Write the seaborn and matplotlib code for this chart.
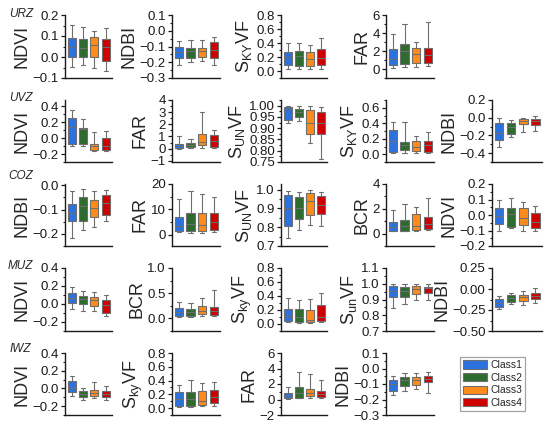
import numpy as np
import pandas as pd
import matplotlib
matplotlib.use("Agg")
import matplotlib.pyplot as plt
from matplotlib.ticker import AutoMinorLocator, FuncFormatter
from matplotlib.patches import Patch
import seaborn as sns

# ---------------- data: per class [low whisker, Q1, median, Q3, high whisker] ----------------
classes = ["Class1", "Class2", "Class3", "Class4"]
colors = ["#2B72E0", "#2E6B2E", "#FF8C1A", "#D00000"]
zones = ["URZ", "UVZ", "COZ", "MUZ", "IWZ"]

urz_ndvi = [[-0.049, 0.002, 0.049, 0.092, 0.152], [-0.037, 0.0, 0.044, 0.084, 0.141],
            [-0.054, -0.002, 0.057, 0.097, 0.125], [-0.067, -0.019, 0.046, 0.084, 0.137]]
urz_ndbi = [[-0.220, -0.172, -0.135, -0.105, -0.063], [-0.199, -0.176, -0.130, -0.109, -0.057],
            [-0.189, -0.166, -0.130, -0.109, -0.061], [-0.220, -0.172, -0.120, -0.074, -0.042]]
urz_sky = [[0.024, 0.091, 0.194, 0.266, 0.395], [0.034, 0.077, 0.21, 0.29, 0.40],
           [0.034, 0.072, 0.165, 0.275, 0.37], [0.024, 0.08, 0.19, 0.32, 0.475]]
urz_far = [[0.11, 0.40, 1.10, 2.21, 3.87], [0.22, 0.59, 1.95, 2.80, 5.0],
           [0.22, 0.67, 1.66, 2.32, 2.99], [0.30, 0.67, 1.51, 2.32, 5.26]]

uvz_ndvi = [[-0.094, -0.068, 0.14, 0.25, 0.353], [-0.10, -0.068, 0.12, 0.132, 0.24],
            [-0.166, -0.145, -0.10, -0.068, 0.08], [-0.166, -0.153, -0.10, 0.004, 0.09]]
uvz_far = [[0.0, 0.03, 0.22, 0.40, 1.0], [0.03, 0.14, 0.33, 0.50, 0.8],
           [0.08, 0.28, 0.55, 1.18, 3.0], [0.08, 0.14, 0.62, 1.10, 1.5]]
uvz_sun = [[0.925, 0.937, 0.987, 0.994, 1.0], [0.933, 0.95, 0.97, 0.985, 1.0],
           [0.835, 0.873, 0.922, 0.982, 0.997], [0.765, 0.874, 0.925, 0.973, 0.994]]
uvz_sky = [[0.013, 0.035, 0.165, 0.317, 0.41], [0.022, 0.057, 0.12, 0.152, 0.41],
           [0.013, 0.048, 0.10, 0.174, 0.23], [0.013, 0.035, 0.113, 0.165, 0.283]]
uvz_ndbi = [[-0.335, -0.25, -0.17, -0.055, 0.0], [-0.22, -0.18, -0.10, -0.055, -0.022],
            [-0.16, -0.066, -0.037, -0.018, 0.0], [-0.15, -0.077, -0.037, -0.011, 0.015]]

coz_ndbi = [[-0.217, -0.148, -0.113, -0.076, -0.025], [-0.183, -0.149, -0.086, -0.048, -0.017],
            [-0.17, -0.131, -0.092, -0.059, -0.025], [-0.149, -0.121, -0.072, -0.039, -0.021]]
coz_far = [[1.07, 1.47, 3.3, 7.07, 14.0], [0.8, 1.33, 4.0, 8.4, 17.3],
           [0.67, 1.33, 3.73, 8.4, 16.0], [1.07, 2.0, 4.8, 8.67, 14.7]]
coz_sun = [[0.742, 0.807, 0.90, 0.972, 0.994], [0.784, 0.844, 0.90, 0.962, 0.987],
           [0.813, 0.863, 0.94, 0.98, 1.0], [0.809, 0.869, 0.92, 0.966, 0.987]]
coz_bcr = [[0.19, 0.24, 0.54, 0.95, 1.88], [0.19, 0.24, 0.60, 1.06, 2.42],
           [0.19, 0.33, 0.60, 1.6, 2.18], [0.27, 0.38, 0.79, 1.36, 2.86]]
coz_ndvi = [[-0.104, -0.057, -0.007, 0.048, 0.10], [-0.087, -0.078, 0.004, 0.048, 0.11],
            [-0.104, -0.065, -0.022, 0.048, 0.085], [-0.104, -0.087, -0.043, 0.015, 0.059]]

muz_ndvi = [[-0.05, 0.012, 0.07, 0.117, 0.187], [-0.075, 0.0, 0.058, 0.09, 0.148],
            [-0.075, -0.027, 0.039, 0.078, 0.136], [-0.13, -0.095, -0.012, 0.05, 0.097]]
muz_bcr = [[0.027, 0.053, 0.124, 0.207, 0.324], [0.035, 0.053, 0.124, 0.193, 0.297],
           [0.04, 0.09, 0.138, 0.24, 0.40], [0.04, 0.07, 0.152, 0.22, 0.565]]
muz_sky = [[0.029, 0.048, 0.12, 0.22, 0.367], [0.01, 0.024, 0.096, 0.22, 0.347],
           [0.01, 0.024, 0.063, 0.193, 0.36], [0.024, 0.039, 0.096, 0.27, 0.448]]
muz_sun = [[0.846, 0.917, 0.953, 0.985, 1.0], [0.874, 0.917, 0.953, 0.981, 1.0],
           [0.895, 0.938, 0.964, 0.985, 1.0], [0.90, 0.942, 0.974, 0.981, 0.996]]
muz_ndbi = [[-0.244, -0.215, -0.163, -0.114, -0.081], [-0.183, -0.15, -0.11, -0.073, -0.049],
            [-0.195, -0.142, -0.094, -0.069, -0.028], [-0.163, -0.114, -0.081, -0.053, 0.008]]

iwz_ndvi = [[-0.085, -0.037, 0.007, 0.089, 0.137], [-0.13, -0.093, -0.06, -0.03, 0.007],
            [-0.111, -0.085, -0.056, -0.018, 0.078], [-0.133, -0.096, -0.067, -0.03, 0.026]]
iwz_sky = [[0.014, 0.034, 0.13, 0.23, 0.335], [0.014, 0.034, 0.134, 0.23, 0.41],
           [0.024, 0.048, 0.096, 0.254, 0.36], [0.034, 0.072, 0.167, 0.263, 0.383]]
iwz_far = [[0.04, 0.13, 0.48, 0.78, 1.65], [0.13, 0.22, 0.78, 1.57, 3.6],
           [0.13, 0.48, 0.87, 1.35, 3.26], [0.13, 0.26, 0.70, 1.13, 2.52]]
iwz_ndbi = [[-0.169, -0.145, -0.097, -0.076, -0.05], [-0.145, -0.115, -0.076, -0.058, -0.032],
            [-0.13, -0.104, -0.076, -0.058, -0.028], [-0.156, -0.086, -0.065, -0.05, -0.022]]

SKY = r"S$_{\mathregular{KY}}$VF"
SUN = r"S$_{\mathregular{UN}}$VF"
Sky = r"S$_{\mathregular{ky}}$VF"
Sun = r"S$_{\mathregular{un}}$VF"

# (row, col, ylabel, data, ylim, yticks, decimals)
panels = [
    (0, 0, "NDVI", urz_ndvi, (-0.1, 0.2), [-0.1, 0.0, 0.1, 0.2], 1),
    (0, 1, "NDBI", urz_ndbi, (-0.3, 0.1), [-0.3, -0.2, -0.1, 0.0, 0.1], 1),
    (0, 2, SKY, urz_sky, (-0.1, 0.8), [0.0, 0.2, 0.4, 0.6, 0.8], 1),
    (0, 3, "FAR", urz_far, (-1, 6), [0, 2, 4, 6], 0),
    (1, 0, "NDVI", uvz_ndvi, (-0.3, 0.48), [-0.2, 0.0, 0.2, 0.4], 1),
    (1, 1, "FAR", uvz_far, (-1.1, 4), [-1, 0, 1, 2, 3, 4], 0),
    (1, 2, SUN, uvz_sun, (0.75, 1.025), [0.75, 0.80, 0.85, 0.90, 0.95, 1.00], 2),
    (1, 3, SKY, uvz_sky, (-0.1, 0.7), [0.0, 0.2, 0.4, 0.6], 1),
    (1, 4, "NDBI", uvz_ndbi, (-0.5, 0.2), [-0.4, -0.2, 0.0, 0.2], 1),
    (2, 0, "NDBI", coz_ndbi, (-0.25, 0.005), [-0.2, -0.1, 0.0], 1),
    (2, 1, "FAR", coz_far, (-4.5, 20), [0, 10, 20], 0),
    (2, 2, SUN, coz_sun, (0.7, 1.03), [0.7, 0.8, 0.9, 1.0], 1),
    (2, 3, "BCR", coz_bcr, (-1, 4), [0, 2, 4], 0),
    (2, 4, "NDVI", coz_ndvi, (-0.2, 0.2), [-0.2, -0.1, 0.0, 0.1, 0.2], 1),
    (3, 0, "NDVI", muz_ndvi, (-0.3, 0.4), [-0.2, 0.0, 0.2, 0.4], 1),
    (3, 1, "BCR", muz_bcr, (-0.25, 1.0), [0.0, 0.5, 1.0], 1),
    (3, 2, Sky, muz_sky, (-0.1, 0.8), [0.0, 0.2, 0.4, 0.6, 0.8], 1),
    (3, 3, Sun, muz_sun, (0.7, 1.1), [0.7, 0.8, 0.9, 1.0, 1.1], 1),
    (3, 4, "NDBI", muz_ndbi, (-0.5, 0.25), [-0.5, -0.25, 0.0, 0.25], 2),
    (4, 0, "NDVI", iwz_ndvi, (-0.3, 0.4), [-0.2, 0.0, 0.2, 0.4], 1),
    (4, 1, Sky, iwz_sky, (-0.1, 0.8), [0.0, 0.2, 0.4, 0.6, 0.8], 1),
    (4, 2, "FAR", iwz_far, (-2, 6), [-2, 0, 2, 4, 6], 0),
    (4, 3, "NDBI", iwz_ndbi, (-0.3, 0.1), [-0.3, -0.2, -0.1, 0.0, 0.1], 1),
]

# ---------------- layout (pixels in a 550x426 canvas) ----------------
W, H = 550, 426
col_x = [(65, 112), (172, 220), (281, 327), (386, 434), (492, 542)]
row_y = [(15, 78), (100, 162), (184, 246), (268, 331), (353, 415)]
zone_pos = [(33, 14), (33, 98), (33, 176), (33, 266), (31, 349)]

sns.set_style("ticks")
plt.rcParams["font.family"] = ["Liberation Sans", "DejaVu Sans"]
plt.rcParams["mathtext.fontset"] = "custom"
plt.rcParams["mathtext.rm"] = "Liberation Sans"
plt.rcParams["axes.unicode_minus"] = True

fig = plt.figure(figsize=(W / 100, H / 100), dpi=100)
edge = "#6E6E6E"


def make_fmt(dec):
    def f(v, pos):
        s = f"{v:.{dec}f}"
        if float(s) == 0:
            s = s.lstrip("-")
        return s.replace("-", "\u2212")
    return FuncFormatter(f)


for (r, c, lab, stats, ylim, yt, dec) in panels:
    x0, x1 = col_x[c]
    y0, y1 = row_y[r]
    ax = fig.add_axes([x0 / W, 1 - y1 / H, (x1 - x0) / W, (y1 - y0) / H])
    rows = []
    for cls, s in zip(classes, stats):
        for v in s:
            rows.append((cls, v))
    df = pd.DataFrame(rows, columns=["cls", "val"])
    sns.boxplot(data=df, x="cls", y="val", hue="cls", order=classes, hue_order=classes,
                palette=colors, whis=(0, 100), width=0.7, linecolor=edge,
                linewidth=0.8, fliersize=0, saturation=1, legend=False, ax=ax)
    ax.set_xlim(-0.6, 3.55)
    ax.set_ylim(*ylim)
    ax.set_yticks(yt)
    ax.yaxis.set_major_formatter(make_fmt(dec))
    ax.yaxis.set_minor_locator(AutoMinorLocator(2))
    ax.set_xticks([])
    ax.set_xlabel("")
    ax.set_ylabel(lab, fontsize=13, labelpad=1.5)
    for side in ["top", "right"]:
        ax.spines[side].set_visible(False)
    for side in ["left", "bottom"]:
        ax.spines[side].set_linewidth(1.0)
        ax.spines[side].set_color("#1A1A1A")
    ax.tick_params(axis="y", which="major", length=3, width=0.9, pad=1.5,
                   labelsize=9.5, colors="#1A1A1A")
    ax.tick_params(axis="y", which="minor", length=1.8, width=0.8, colors="#1A1A1A")

for z, (zx, zy) in zip(zones, zone_pos):
    fig.text(zx / W, 1 - zy / H, z, fontsize=8.5, style="italic", ha="right", va="center")

handles = [Patch(facecolor=col, edgecolor=edge, linewidth=0.8) for col in colors]
leg = fig.legend(handles, classes, loc="upper left", bbox_to_anchor=(460 / W, 1 - 357 / H),
                 fontsize=7.5, frameon=True, fancybox=False, handlelength=2.3,
                 handleheight=0.85, labelspacing=0.25, handletextpad=0.3,
                 borderpad=0.3, borderaxespad=0)
leg.get_frame().set_edgecolor("#8C8C8C")
leg.get_frame().set_linewidth(0.9)

fig.savefig("out.png", dpi=100)
